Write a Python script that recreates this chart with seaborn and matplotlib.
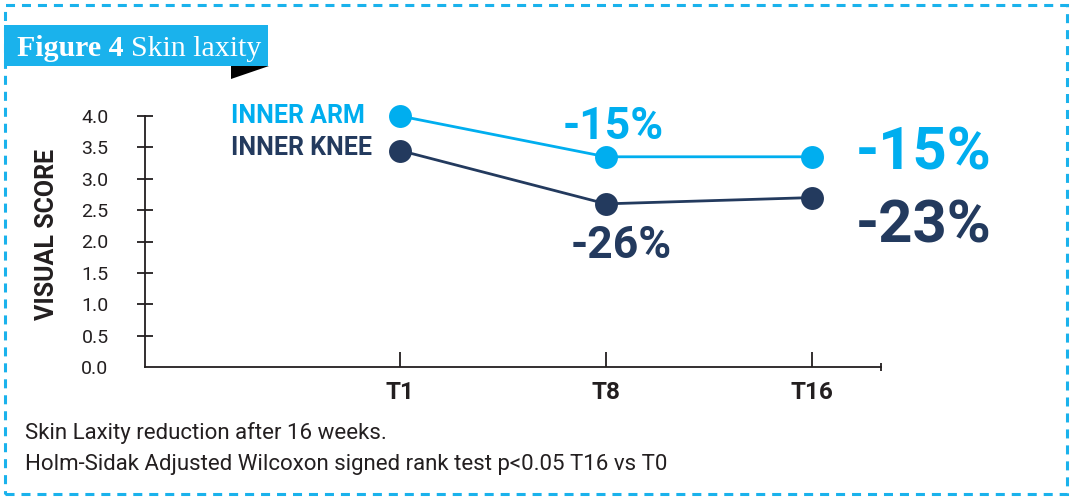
import numpy as np
import pandas as pd
import matplotlib
matplotlib.use("Agg")
import matplotlib.pyplot as plt
from matplotlib.patches import Rectangle, Polygon
import seaborn as sns

# ---------------- data ----------------
timepoints = ["T1", "T8", "T16"]
series_names = ["INNER ARM", "INNER KNEE"]
inner_arm = [4.0, 3.35, 3.35]
inner_knee = [3.45, 2.6, 2.7]
arm_change = ["", "-15%", "-15%"]
knee_change = ["", "-26%", "-23%"]
y_ticks = [0.0, 0.5, 1.0, 1.5, 2.0, 2.5, 3.0, 3.5, 4.0]
title_bold = "Figure 4"
title_rest = "Skin laxity"
y_label = "VISUAL SCORE"
footnote_lines = ["Skin Laxity reduction after 16 weeks.",
                  "Holm-Sidak Adjusted Wilcoxon signed rank test p<0.05 T16 vs T0"]

# ---------------- style ----------------
ARM = "#00aeef"
KNEE = "#233a5e"
INK = "#231f20"
BORDER = "#1ab2ec"

sns.set_style("white")
plt.rcParams["font.family"] = ["Roboto", "DejaVu Sans"]

W, H = 1080, 504
fig = plt.figure(figsize=(W / 100, H / 100), dpi=100)


def fx(x):
    return x / W


def fy(y):
    return 1 - y / H


df = pd.DataFrame({
    "time": timepoints * 2,
    "score": inner_arm + inner_knee,
    "site": [series_names[0]] * 3 + [series_names[1]] * 3,
})

ax = fig.add_axes([fx(145), fy(367), (881 - 145) / W, (367 - 116) / H])
sns.lineplot(data=df, x="time", y="score", hue="site", palette=[ARM, KNEE],
             marker="o", markersize=16.5, markeredgewidth=0, linewidth=2.0,
             legend=False, sort=False, ax=ax, clip_on=False, zorder=3)

ax.set_ylim(0, 4)
ax.set_xlim(-1.238, 2.335)
ax.set_facecolor("none")
for s in ["top", "right"]:
    ax.spines[s].set_visible(False)
for s in ["left", "bottom"]:
    ax.spines[s].set_color(INK)
    ax.spines[s].set_linewidth(1.3)

ax.set_yticks(y_ticks)
ax.set_yticklabels([f"{v:.1f}" for v in y_ticks])
ax.tick_params(axis="y", left=True, direction="inout", length=11.5, width=1.3,
               color=INK, pad=20.5, labelsize=14, labelcolor=INK)
ax.yaxis.get_major_ticks()[0].tick1line.set_visible(False)
ax.set_xticks(range(len(timepoints)))
ax.set_xticklabels(timepoints)
ax.tick_params(axis="x", bottom=True, direction="in", length=10.8, width=1.3,
               color=INK, pad=10, labelsize=17.5, labelcolor=INK)
for lab in ax.get_xticklabels():
    lab.set_fontweight("bold")

ax.set_xlabel("")
ax.set_ylabel(y_label, fontsize=18, fontweight="bold", color=INK)
ax.yaxis.set_label_coords(-0.117, 0.528)

# end cap of x axis
ax.plot([1], [0], marker="|", markersize=6, markeredgewidth=1.3, color=INK,
        transform=ax.transAxes, clip_on=False)

# legend-like labels
ax.annotate(series_names[0], xy=(0, inner_arm[0]), xytext=(-169, 0),
            textcoords="offset pixels", ha="left", va="center",
            fontsize=18, fontweight="bold", color=ARM, annotation_clip=False)
ax.annotate(series_names[1], xy=(0, inner_knee[0]), xytext=(-169, 3),
            textcoords="offset pixels", ha="left", va="center",
            fontsize=18, fontweight="bold", color=KNEE, annotation_clip=False)

# change annotations
ax.annotate(arm_change[1], xy=(1, inner_arm[1]), xytext=(7, 18),
            textcoords="offset pixels", ha="center", va="baseline",
            fontsize=32, fontweight="bold", color=ARM)
ax.annotate(knee_change[1], xy=(1, inner_knee[1]), xytext=(15, -54),
            textcoords="offset pixels", ha="center", va="baseline",
            fontsize=32, fontweight="bold", color=KNEE)
ax.annotate(arm_change[2], xy=(2, inner_arm[2]), xytext=(44, -13),
            textcoords="offset pixels", ha="left", va="baseline",
            fontsize=43, fontweight="bold", color=ARM,
            annotation_clip=False)
ax.annotate(knee_change[2], xy=(2, inner_knee[2]), xytext=(44, -45),
            textcoords="offset pixels", ha="left", va="baseline",
            fontsize=43, fontweight="bold", color=KNEE,
            annotation_clip=False)

# dashed border
lw = 2.2
fig.patches.append(Rectangle((fx(5), fy(494)), fx(1067) - fx(5), fy(5) - fy(494),
                             transform=fig.transFigure, fill=False,
                             edgecolor=BORDER, linewidth=lw,
                             linestyle=(0, (6.5 / lw, 5.0 / lw)), zorder=1))

# title banner
fig.patches.append(Rectangle((fx(4), fy(66)), fx(268) - fx(4), fy(25) - fy(66),
                             transform=fig.transFigure, facecolor=BORDER,
                             edgecolor="none", zorder=2))
fig.patches.append(Polygon([(fx(231), fy(66)), (fx(269), fy(66)), (fx(231), fy(79))],
                           closed=True, transform=fig.transFigure,
                           facecolor="black", edgecolor="none", zorder=2))
t1 = fig.text(fx(17), fy(56), title_bold + " ", fontsize=21.5, fontweight="bold",
              color="white", family=["Liberation Serif", "DejaVu Serif"],
              ha="left", va="baseline", zorder=3)
fig.canvas.draw()
bb = t1.get_window_extent()
fig.text(bb.x1 / W, fy(56), title_rest, fontsize=21.5, color="white",
         family=["Liberation Serif", "DejaVu Serif"], ha="left", va="baseline",
         zorder=3)

# footnote
fig.text(fx(25), fy(439), footnote_lines[0], fontsize=16, color=INK,
         ha="left", va="baseline")
fig.text(fx(25), fy(470), footnote_lines[1], fontsize=16, color=INK,
         ha="left", va="baseline")

fig.savefig("out.png", dpi=100)
